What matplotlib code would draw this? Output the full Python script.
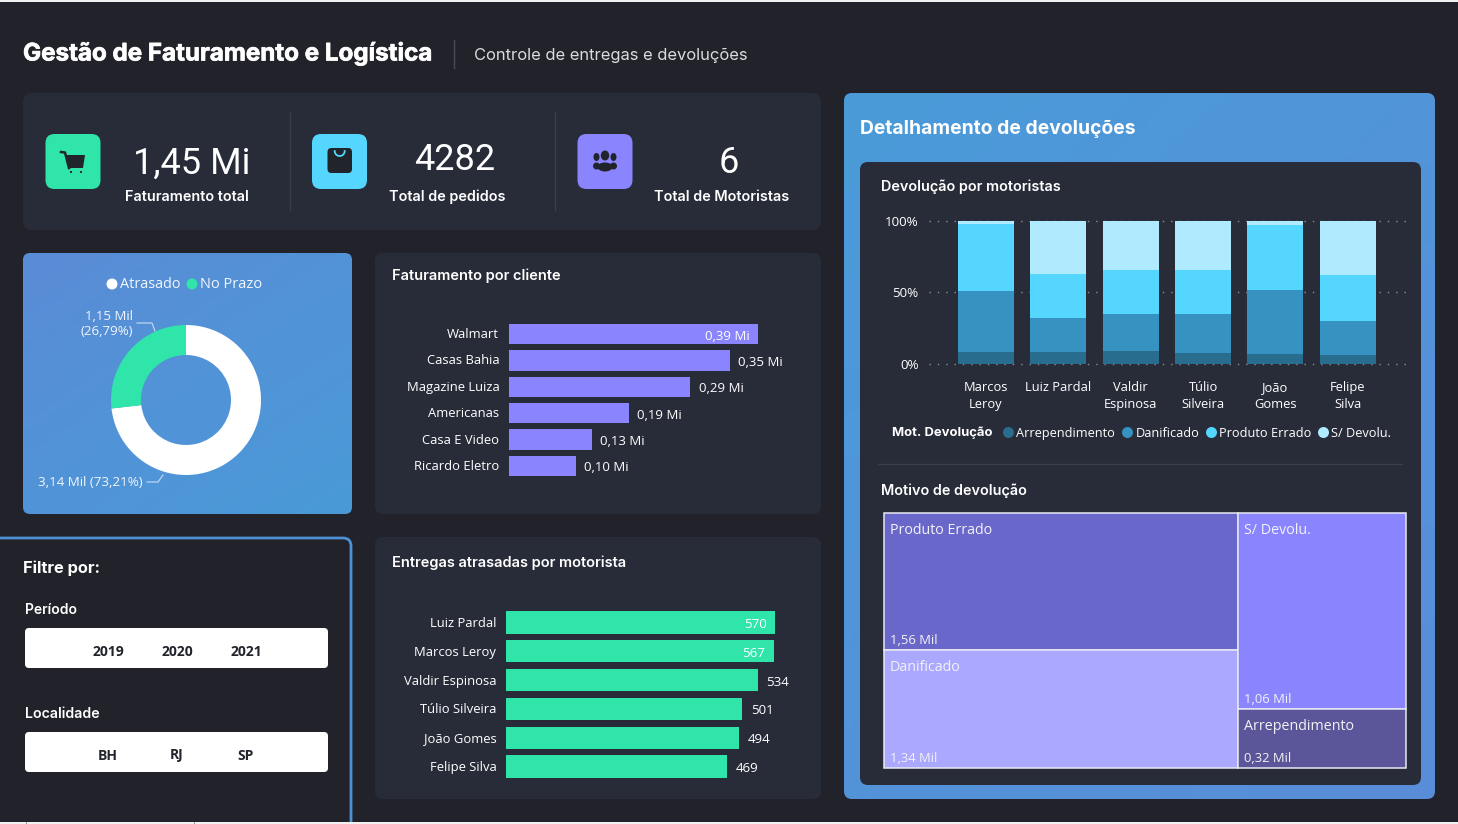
import numpy as np
import matplotlib
matplotlib.use("Agg")
import matplotlib.pyplot as plt
import matplotlib.patheffects as pe
from matplotlib.patches import FancyBboxPatch, Rectangle, Circle, Ellipse, Polygon
from matplotlib.colors import LinearSegmentedColormap
from matplotlib.transforms import ScaledTranslation

# ---------- data ----------
kpi_values = ["1,45 Mi", "4282", "6"]
kpi_labels = ["Faturamento total", "Total de pedidos", "Total de Motoristas"]

status_names = ["Atrasado", "No Prazo"]
status_values = [3.14, 1.15]
status_labels = ["3,14 Mil (73,21%)", "1,15 Mil\n(26,79%)"]

clientes = ["Walmart", "Casas Bahia", "Magazine Luiza", "Americanas", "Casa E Video", "Ricardo Eletro"]
faturamento = [0.39, 0.346, 0.284, 0.188, 0.130, 0.105]
faturamento_labels = ["0,39 Mi", "0,35 Mi", "0,29 Mi", "0,19 Mi", "0,13 Mi", "0,10 Mi"]

motoristas_atraso = ["Luiz Pardal", "Marcos Leroy", "Valdir Espinosa", "Túlio Silveira", "João Gomes", "Felipe Silva"]
atrasos = [570, 567, 534, 501, 494, 469]

motoristas = ["Marcos\nLeroy", "Luiz Pardal", "Valdir\nEspinosa", "Túlio\nSilveira", "João\nGomes", "Felipe\nSilva"]
motivos = ["Arrependimento", "Danificado", "Produto Errado", "S/ Devolu."]
arrependimento = [8.4, 8.0, 8.9, 7.7, 6.6, 6.1]
danificado = [42.2, 23.9, 25.5, 27.2, 44.9, 23.6]
produto_errado = [47.1, 31.1, 31.2, 30.7, 45.9, 32.4]
sem_devolucao = [2.3, 37.0, 34.4, 34.4, 2.6, 37.9]

tree_left_names = ["Produto Errado", "Danificado"]
tree_left_values = [1.56, 1.34]
tree_left_labels = ["1,56 Mil", "1,34 Mil"]
tree_right_names = ["S/ Devolu.", "Arrependimento"]
tree_right_values = [1.06, 0.32]
tree_right_labels = ["1,06 Mil", "0,32 Mil"]

periodos = ["2019", "2020", "2021"]
localidades = ["BH", "RJ", "SP"]

# ---------- style ----------
W, H = 1458, 824
BG = "#22232A"
PANEL = "#282C38"
HEAD = "Inter"
BODY = "Open Sans"
GREEN = "#2FE5A9"
CYAN = "#55D6FF"
VIOLET = "#8A84FF"
STACK = ["#286D8E", "#3592C1", "#55D6FF", "#B0EAFF"]
TREE = ["#6A67CB", "#ABA8FF", "#8A84FF", "#5A5699"]
plt.rcParams["font.family"] = [BODY, "DejaVu Sans"]

fig = plt.figure(figsize=(W / 100, H / 100), dpi=100, facecolor=BG)
bg = fig.add_axes([0, 0, 1, 1], zorder=0)
bg.set_xlim(0, W)
bg.set_ylim(H, 0)
bg.axis("off")


def rbox(x0, y0, x1, y1, r=8, fc=PANEL, ec="none", lw=0, z=1, ax=bg):
    p = FancyBboxPatch((x0 + r, y0 + r), x1 - x0 - 2 * r, y1 - y0 - 2 * r,
                       boxstyle=f"round,pad={r},rounding_size={r}",
                       fc=fc, ec=ec, lw=lw, zorder=z)
    ax.add_patch(p)
    return p


def gradient(x0, y0, x1, y1, c0, c1, r=8, z=1):
    p = rbox(x0, y0, x1, y1, r=r, fc="none", z=z)
    xx, yy = np.meshgrid(np.linspace(0, 1, 80), np.linspace(0, 1, 80))
    cmap = LinearSegmentedColormap.from_list("g", [c0, c1])
    im = bg.imshow((xx * 0.45 + yy * 0.55), extent=(x0, x1, y1, y0), cmap=cmap,
                   aspect="auto", zorder=z, origin="upper")
    im.set_clip_path(p)
    bg.set_xlim(0, W)
    bg.set_ylim(H, 0)


def inset(x0, y0, x1, y1):
    a = fig.add_axes([x0 / W, 1 - y1 / H, (x1 - x0) / W, (y1 - y0) / H], zorder=3)
    a.patch.set_alpha(0)
    for s in a.spines.values():
        s.set_visible(False)
    return a


def T(x, y, s, size=10, color="white", weight="normal", ha="left", va="center", family=BODY, z=5, **kw):
    return bg.text(x, y, s, fontsize=size, color=color, weight=weight, ha=ha, va=va,
                   family=family, zorder=z, **kw)


def nudge(ax, dy_px):
    off = ScaledTranslation(0, dy_px / 100, fig.dpi_scale_trans)
    for lab in ax.get_yticklabels():
        lab.set_transform(lab.get_transform() + off)


HEAVY = [pe.withStroke(linewidth=0.5, foreground="white")]

# page edges
bg.add_patch(Rectangle((0, 0), W, 2, fc="#F2F2F2", ec="none", zorder=6))
bg.add_patch(Rectangle((0, 822), W, 2, fc="#F2F2F2", ec="none", zorder=6))
for x in (26, 194):
    bg.plot([x, x], [822, 824], color="#9A9A9A", lw=0.8, zorder=7)

# header
T(23, 54, "Gestão de Faturamento e Logística", 17.4, weight="bold", family=HEAD, path_effects=HEAVY)
bg.plot([454, 454], [40, 68], color="#4A4C54", lw=1, zorder=2)
T(474, 55, "Controle de entregas e devoluções", 11.9, color="#DADBDE", family=HEAD)

# KPI strip
rbox(23, 93, 821, 230, r=9)
for x in (290, 555):
    bg.plot([x, x], [112, 210], color="#3A3E4A", lw=1, zorder=2)

icons = [(45.5, GREEN), (312, CYAN), (577.5, VIOLET)]
for x, c in icons:
    rbox(x, 134, x + 55, 189, r=9, fc=c, z=3)
# cart
ic = "#22242B"
bg.add_patch(Polygon([(66.5, 155), (85, 155), (83, 168), (69, 168)], fc=ic, ec="none", zorder=4))
bg.plot([61, 65, 69], [152, 152.5, 168], color=ic, lw=1.8, zorder=4)
for cx in (71, 81):
    bg.add_patch(Circle((cx, 172), 1.1, fc=ic, ec="none", zorder=4))
# bag
rbox(327.5, 148, 352, 173, r=4, fc=ic, z=4)
t = np.linspace(np.pi, 2 * np.pi, 30)
bg.plot(339.7 + 5 * np.cos(t), 151 - 5 * np.sin(t), color=CYAN, lw=1.3, zorder=5)
# users
for cx, cy, rx, ry in [(605, 155.5, 4.2, 5), (605, 167, 7.5, 4.5)]:
    bg.add_patch(Ellipse((cx, cy), 2 * rx, 2 * ry, fc=ic, ec="none", zorder=4))
for cx in (596.5, 613.5):
    bg.add_patch(Ellipse((cx, 157), 6, 8, fc=ic, ec="none", zorder=4))
    bg.add_patch(Ellipse((cx, 166), 7, 7, fc=ic, ec="none", zorder=4))

kx = [192, 455, 729]
ky = [164, 159.5, 163]
for x, y, s in zip(kx, ky, kpi_values):
    T(x, y, s, 26, ha="center", family="Roboto")
for x, s in zip([186.5, 447, 721.5], kpi_labels):
    T(x, 197, s, 10.4, ha="center", weight="semibold", family=HEAD)

# donut panel
gradient(23, 253, 352, 514, "#5A8CD6", "#4A9AD8", r=7)
bg.add_patch(Circle((112, 284), 5.5, fc="white", ec="none", zorder=4))
bg.add_patch(Circle((192, 284), 5.5, fc=GREEN, ec="none", zorder=4))
T(120, 284.5, status_names[0], 10.4, color="#F2F6FC")
T(200, 284.5, status_names[1], 10.5, color="#F2F6FC")
ad = inset(111, 325, 261, 475)
ad.pie(status_values, colors=["white", GREEN], startangle=90, counterclock=False,
       radius=1, wedgeprops=dict(width=0.4, linewidth=0))
ad.set_xlim(-1, 1)
ad.set_ylim(-1, 1)
T(143, 482, status_labels[0], 9.6, ha="right", color="#F2F6FC")
T(133, 324, status_labels[1], 9.5, ha="right", color="#F2F6FC", linespacing=1.2, multialignment="right")
bg.plot([147, 158, 163], [482, 482, 475], color="#C9DDF2", lw=0.8, zorder=4)
bg.plot([137, 152, 155], [323, 323, 331], color="#C9DDF2", lw=0.8, zorder=4)

# faturamento por cliente
rbox(375, 253, 821, 514, r=8)
T(392, 275.5, "Faturamento por cliente", 10.5, weight="semibold", family=HEAD)
a1 = inset(509, 321, 810, 479)
ypos = np.arange(len(clientes))
a1.barh(ypos, faturamento, height=0.76, color=VIOLET)
a1.set_xlim(0, 0.39 * 301 / 249)
a1.set_ylim(len(clientes) - 0.5, -0.5)
a1.set_xticks([])
a1.set_yticks(ypos, clientes, fontsize=9.4, color="white")
a1.tick_params(length=0, pad=7)
nudge(a1, 1)
for i, (v, s) in enumerate(zip(faturamento, faturamento_labels)):
    if i == 0:
        a1.text(v - 0.013, i + 0.07, s, color="white", fontsize=9.5, ha="right", va="center")
    else:
        a1.text(v + 0.013, i + 0.07, s, color="white", fontsize=9.5, ha="left", va="center")

# entregas atrasadas
rbox(375, 537, 821, 799, r=8)
T(392, 562.5, "Entregas atrasadas por motorista", 10.5, weight="semibold", family=HEAD)
a2 = inset(506, 608, 810, 781)
ypos2 = np.arange(len(motoristas_atraso))
a2.barh(ypos2, atrasos, height=0.77, color=GREEN)
a2.set_xlim(0, 570 * 304 / 269)
a2.set_ylim(len(atrasos) - 0.5, -0.5)
a2.set_xticks([])
a2.set_yticks(ypos2, motoristas_atraso, fontsize=9.4, color="white")
a2.tick_params(length=0, pad=7)
nudge(a2, 0.5)
for i, v in enumerate(atrasos):
    if i < 2:
        a2.text(v - 18, i + 0.07, str(v), color="white", fontsize=9.6, ha="right", va="center")
    else:
        a2.text(v + 18, i + 0.07, str(v), color="white", fontsize=9.6, ha="left", va="center")

# filter panel
rbox(-20, 538, 351, 860, r=8, fc=BG, ec="#4F8FD6", lw=2, z=1)
T(23, 568.5, "Filtre por:", 11.8, weight="bold", family=HEAD)
T(25, 610, "Período", 10, weight="semibold", family=HEAD)
rbox(25, 628, 328, 668, r=4, fc="white", z=2)
for x, s in zip([108, 177, 246], periodos):
    T(x, 651.5, s, 10, color="#22242B", weight="bold", ha="center")
T(25, 713.5, "Localidade", 10.2, weight="semibold", family=HEAD)
rbox(25, 732, 328, 772, r=4, fc="white", z=2)
for x, s in zip([108, 177, 246], localidades):
    T(x, 755.5, s, 10, color="#22242B", weight="bold", ha="center")

# right panel
gradient(844, 93, 1435, 799, "#4A9BD9", "#5A8DD8", r=8)
T(860, 129, "Detalhamento de devoluções", 13.9, weight="bold", family=HEAD)
rbox(860, 162, 1421, 785, r=8, fc=PANEL, z=2)
T(881, 186.5, "Devolução por motoristas", 10.4, weight="semibold", family=HEAD)
a3 = inset(929, 221, 1406, 363.5)
n = np.arange(len(motoristas))
bottom = np.zeros(len(motoristas))
for vals, c in zip([arrependimento, danificado, produto_errado, sem_devolucao], STACK):
    a3.bar(n, vals, bottom=bottom, width=0.775, color=c, zorder=3)
    bottom += np.array(vals)
a3.set_xlim(-0.788, 5.805)
a3.set_ylim(0, 100)
a3.set_yticks([0, 50, 100], ["0%", "50%", "100%"], fontsize=9.6, color="white")
a3.set_xticks(n, motoristas, fontsize=9.3, color="white", linespacing=1.45, va="top")
a3.tick_params(length=0)
a3.tick_params(axis="x", pad=12.5)
a3.tick_params(axis="y", pad=7.5)
a3.grid(axis="y", color="#8A8D96", lw=1, ls=(0, (1, 5)), zorder=1, clip_on=False)
T(892, 432.5, "Mot. Devolução", 9.4, weight="bold", family=HEAD)
for x, s, c in zip([1003, 1122, 1206, 1318], motivos, STACK):
    bg.add_patch(Circle((x + 5.5, 432.5), 5.5, fc=c, ec="none", zorder=4))
    T(x + 13.5, 433, s, 9.2)
bg.plot([878, 1402], [464, 464], color="#3C404C", lw=1, zorder=4)

T(881, 491, "Motivo de devolução", 10.4, weight="semibold", family=HEAD)
a4 = inset(884, 513, 1406, 768)
tot = sum(tree_left_values) + sum(tree_right_values)
wl = sum(tree_left_values) / tot


def column(x0, width, values, names, labels, colors):
    top = 1.0
    for v, nm, lb, c in zip(values, names, labels, colors):
        h = v / sum(values)
        a4.add_patch(Rectangle((x0, top - h), width, h, fc=c, ec="#E8E8F0", lw=1.1, zorder=2, clip_on=False))
        a4.annotate(nm, (x0, top), xytext=(4.3, -12.5), textcoords="offset points", fontsize=10.3,
                    color="#F2F2F6", va="center", zorder=3, annotation_clip=False)
        a4.annotate(lb, (x0, top - h), xytext=(4.3, 7), textcoords="offset points", fontsize=9.4,
                    color="#F2F2F6", va="center", zorder=3, annotation_clip=False)
        top -= h


column(0, wl, tree_left_values, tree_left_names, tree_left_labels, TREE[:2])
column(wl, 1 - wl, tree_right_values, tree_right_names, tree_right_labels, TREE[2:])
a4.set_xlim(0, 1)
a4.set_ylim(0, 1)
a4.set_xticks([])
a4.set_yticks([])

fig.savefig("out.png", dpi=100, facecolor=BG)
